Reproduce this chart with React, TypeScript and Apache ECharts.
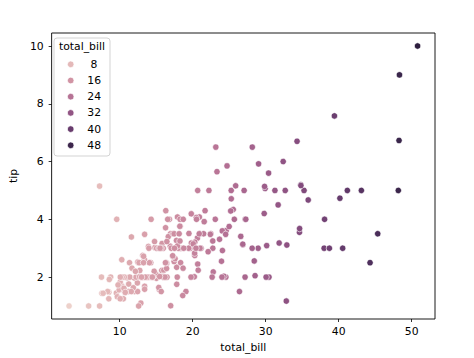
import React, { useEffect, useRef } from "react";
import * as echarts from "echarts";

const totalBill = [
  16.99, 10.34, 21.01, 23.68, 24.59, 25.29, 8.77, 26.88, 15.04, 14.78,
  10.27, 35.26, 15.42, 18.43, 14.83, 21.58, 10.33, 16.29, 16.97, 20.65,
  17.92, 20.29, 15.77, 39.42, 19.82, 17.81, 13.37, 12.69, 21.7, 19.65,
  9.55, 18.35, 15.06, 20.69, 17.78, 24.06, 16.31, 16.93, 18.69, 31.27,
  16.04, 17.46, 13.94, 9.68, 30.4, 18.29, 22.23, 32.4, 28.55, 18.04,
  12.54, 10.29, 34.81, 9.94, 25.56, 19.49, 38.01, 26.41, 11.24, 48.27,
  20.29, 13.81, 11.02, 18.29, 17.59, 20.08, 16.45, 3.07, 20.23, 15.01,
  12.02, 17.07, 26.86, 25.28, 14.73, 10.51, 17.92, 27.2, 22.76, 17.29,
  19.44, 16.66, 10.07, 32.68, 15.98, 34.83, 13.03, 18.28, 24.71, 21.16,
  28.97, 22.49, 5.75, 16.32, 22.75, 40.17, 27.28, 12.03, 21.01, 12.46,
  11.35, 15.38, 44.3, 22.42, 20.92, 15.36, 20.49, 25.21, 18.24, 14.31,
  14.0, 7.25, 38.07, 23.95, 25.71, 17.31, 29.93, 10.65, 12.43, 24.08,
  11.69, 13.42, 14.26, 15.95, 12.48, 29.8, 8.52, 14.52, 11.38, 22.82,
  19.08, 20.27, 11.17, 12.26, 18.26, 8.51, 10.33, 14.15, 16.0, 13.16,
  17.47, 34.3, 41.19, 27.05, 16.43, 8.35, 18.64, 11.87, 9.78, 7.51,
  14.07, 13.13, 17.26, 24.55, 19.77, 29.85, 48.17, 25.0, 13.39, 16.49,
  21.5, 12.66, 16.21, 13.81, 17.51, 24.52, 20.76, 31.71, 10.59, 10.63,
  50.81, 15.81, 7.25, 31.85, 16.82, 32.9, 17.89, 14.48, 9.6, 34.63,
  34.65, 23.33, 45.35, 23.17, 40.55, 20.69, 20.9, 30.46, 18.15, 23.1,
  15.69, 19.81, 28.44, 15.48, 16.58, 7.56, 10.34, 43.11, 13.0, 13.51,
  18.71, 12.74, 13.0, 16.4, 20.53, 16.47, 26.59, 38.73, 24.27, 12.76,
  30.06, 25.89, 48.33, 13.27, 28.17, 12.9, 28.15, 11.59, 7.74, 30.14,
  12.16, 13.42, 8.58, 15.98, 13.42, 16.27, 10.09, 20.45, 13.28, 22.12,
  24.01, 15.69, 11.61, 10.77, 15.53, 10.07, 12.6, 32.83, 35.83, 29.03,
  27.18, 22.67, 17.82, 18.78,
];

const tip = [
  1.01, 1.66, 3.5, 3.31, 3.61, 4.71, 2.0, 3.12, 1.96, 3.23,
  1.71, 5.0, 1.57, 3.0, 3.02, 3.92, 1.67, 3.71, 3.5, 3.35,
  4.08, 2.75, 2.23, 7.58, 3.18, 2.34, 2.0, 2.0, 4.3, 3.0,
  1.45, 2.5, 3.0, 2.45, 3.27, 3.6, 2.0, 3.07, 2.31, 5.0,
  2.24, 2.54, 3.06, 1.32, 5.6, 3.0, 5.0, 6.0, 2.05, 3.0,
  2.5, 2.6, 5.2, 1.56, 4.34, 3.51, 3.0, 1.5, 1.76, 6.73,
  3.21, 2.0, 1.98, 3.76, 2.64, 3.15, 2.47, 1.0, 2.01, 2.09,
  1.97, 3.0, 3.14, 5.0, 2.2, 1.25, 3.08, 4.0, 3.0, 2.71,
  3.0, 3.4, 1.83, 5.0, 2.03, 5.17, 2.0, 4.0, 5.85, 3.0,
  3.0, 3.5, 1.0, 4.3, 3.25, 4.73, 4.0, 1.5, 3.0, 1.5,
  2.5, 3.0, 2.5, 3.48, 4.08, 1.64, 4.06, 4.29, 3.76, 4.0,
  3.0, 1.0, 4.0, 2.55, 4.0, 3.5, 5.07, 1.5, 1.8, 2.92,
  2.31, 1.68, 2.5, 2.0, 2.52, 4.2, 1.48, 2.0, 2.0, 2.18,
  1.5, 2.83, 1.5, 2.0, 3.25, 1.25, 2.0, 2.0, 2.0, 2.75,
  3.5, 6.7, 5.0, 5.0, 2.3, 1.5, 1.36, 1.63, 1.73, 2.0,
  2.5, 2.0, 2.74, 2.0, 2.0, 5.14, 5.0, 3.75, 2.61, 2.0,
  3.5, 2.5, 2.0, 2.0, 3.0, 3.48, 2.24, 4.5, 1.61, 2.0,
  10.0, 3.16, 5.15, 3.18, 4.0, 3.11, 2.0, 2.0, 4.0, 3.55,
  3.68, 5.65, 3.5, 6.5, 3.0, 5.0, 3.5, 2.0, 3.5, 4.0,
  1.5, 4.19, 2.56, 2.02, 4.0, 1.44, 2.0, 5.0, 2.0, 2.0,
  4.0, 2.01, 2.0, 2.5, 4.0, 3.23, 3.41, 3.0, 2.03, 2.23,
  2.0, 5.16, 9.0, 2.5, 6.5, 1.1, 3.0, 1.5, 1.44, 3.09,
  2.2, 3.48, 1.92, 3.0, 1.58, 2.5, 2.0, 3.0, 2.72, 2.88,
  2.0, 3.0, 3.39, 1.47, 3.0, 1.25, 1.0, 1.17, 4.67, 5.92,
  2.0, 2.0, 1.75, 3.0,
];

const xTicks = [10, 20, 30, 40, 50];
const yTicks = [2, 4, 6, 8, 10];
const legendValues = [8, 16, 24, 32, 40, 48];
const xName = "total_bill";
const yName = "tip";
const hueName = "total_bill";

// seaborn "ch:" cubehelix colormap (start=0, rot=0.4, hue=0.8, light=0.85, dark=0.15)
function cubehelix(t: number): string {
  const light = 0.85, dark = 0.15, start = 0, rot = 0.4, hue = 0.8, gamma = 1;
  const x = light + (dark - light) * t;
  const xg = Math.pow(x, gamma);
  const a = (hue * xg * (1 - xg)) / 2;
  const phi = 2 * Math.PI * (start / 3 + rot * x);
  const c = Math.cos(phi), s = Math.sin(phi);
  const clip = (v: number) => Math.round(Math.min(1, Math.max(0, v)) * 255);
  const r = clip(xg + a * (-0.14861 * c + 1.78277 * s));
  const g = clip(xg + a * (-0.29227 * c - 0.90649 * s));
  const b = clip(xg + a * (1.97294 * c));
  return `rgb(${r},${g},${b})`;
}

const FONT = "DejaVu Sans";

export default function App() {
  const ref = useRef<HTMLDivElement>(null);
  useEffect(() => {
    if (!ref.current) return;
    const chart = echarts.init(ref.current, undefined, { renderer: "svg" });
    const hMin = Math.min(...totalBill);
    const hMax = Math.max(...totalBill);
    const xMinD = Math.min(...totalBill), xMaxD = Math.max(...totalBill);
    const yMinD = Math.min(...tip), yMaxD = Math.max(...tip);
    const xPad = (xMaxD - xMinD) * 0.05;
    const yPad = (yMaxD - yMinD) * 0.05;
    const stops: string[] = [];
    for (let i = 0; i < 64; i++) stops.push(cubehelix(i / 63));
    const norm = (v: number) => (v - hMin) / (hMax - hMin);

    const legendX = 54, legendY = 38, legendW = 56, legendH = 118;
    const entryY0 = 64.3, entryStep = 16.2;
    const legendEls: any[] = [
      {
        type: "rect",
        shape: { x: legendX, y: legendY, width: legendW, height: legendH, r: 3 },
        style: { fill: "rgba(255,255,255,0.8)", stroke: "#d3d3d3", lineWidth: 1 },
        z: 100,
      },
      {
        type: "text",
        x: legendX + legendW / 2,
        y: 46,
        style: { text: hueName, fontFamily: FONT, fontSize: 10.8, fill: "#000", align: "center", verticalAlign: "middle" },
        z: 101,
      },
    ];
    legendValues.forEach((v, i) => {
      const cy = entryY0 + i * entryStep;
      legendEls.push({
        type: "circle",
        shape: { cx: 70.7, cy, r: 3.3 },
        style: { fill: cubehelix(norm(v)), stroke: "#fff", lineWidth: 0.7 },
        z: 101,
      });
      legendEls.push({
        type: "text",
        x: String(v).length === 1 ? 90.6 : 87.3,
        y: cy,
        style: { text: String(v), fontFamily: FONT, fontSize: 10.8, fill: "#000", align: "left", verticalAlign: "middle" },
        z: 101,
      });
    });

    chart.setOption({
      animation: false,
      backgroundColor: "#fff",
      grid: {
        left: 49, right: 39, top: 33, bottom: 39,
        show: true, borderColor: "#000", borderWidth: 0.9, backgroundColor: "transparent",
      },
      xAxis: {
        type: "value",
        min: xMinD - xPad,
        max: xMaxD + xPad,
        name: xName,
        nameLocation: "middle",
        nameGap: 22,
        nameTextStyle: { fontFamily: FONT, fontSize: 10.8, color: "#000" },
        axisLine: { show: false },
        splitLine: { show: false },
        axisTick: { show: true, length: 3, inside: false, customValues: xTicks, lineStyle: { color: "#000", width: 0.8 } },
        axisLabel: { customValues: xTicks, margin: 7, fontFamily: FONT, fontSize: 10.8, color: "#000" },
      },
      yAxis: {
        type: "value",
        min: yMinD - yPad,
        max: yMaxD + yPad,
        name: yName,
        nameLocation: "middle",
        nameGap: 26,
        nameRotate: 90,
        nameTextStyle: { fontFamily: FONT, fontSize: 10.8, color: "#000" },
        axisLine: { show: false },
        splitLine: { show: false },
        axisTick: { show: true, length: 3, inside: false, customValues: yTicks, lineStyle: { color: "#000", width: 0.8 } },
        axisLabel: { customValues: yTicks, margin: 8, fontFamily: FONT, fontSize: 10.8, color: "#000" },
      },
      visualMap: {
        type: "continuous",
        show: false,
        dimension: 0,
        seriesIndex: 0,
        min: hMin,
        max: hMax,
        inRange: { color: stops },
      },
      graphic: legendEls,
      series: [
        {
          type: "scatter",
          symbol: "circle",
          symbolSize: 6.4,
          itemStyle: { borderColor: "#fff", borderWidth: 0.6, opacity: 1 },
          data: totalBill.map((b, i) => [b, tip[i]]),
        },
      ],
    });
    return () => chart.dispose();
  }, []);
  return <div ref={ref} style={{ width: 474, height: 358, position: "absolute", left: 0, top: 0 }} />;
}
